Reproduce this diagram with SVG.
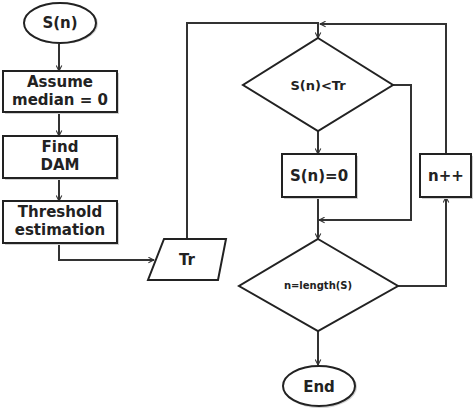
<svg xmlns="http://www.w3.org/2000/svg" width="474" height="409" viewBox="0 0 474 409">
<style>
.s{fill:#fff;stroke:#222;stroke-width:2}
.sh{fill:#d0d0d0;stroke:none}
.t{font-family:"DejaVu Sans",sans-serif;font-weight:bold;font-size:15px;fill:#222;text-anchor:middle}
.c{fill:none;stroke:#333;stroke-width:2}
</style>
<defs>
<marker id="a" viewBox="0 0 10 10" refX="9" refY="5" markerWidth="7" markerHeight="7" markerUnits="userSpaceOnUse" orient="auto">
<path d="M1,1 L9,5 L1,9" fill="none" stroke="#333" stroke-width="1.5"/>
</marker>
</defs>
<rect width="474" height="409" fill="#fff"/>
<g id="connectors">
<path class="c" d="M59,43 V71" marker-end="url(#a)"/>
<path class="c" d="M59,112 V136" marker-end="url(#a)"/>
<path class="c" d="M59,178 V201" marker-end="url(#a)"/>
<path class="c" d="M59,243 V260 H154" marker-end="url(#a)"/>
<path class="c" d="M187,239 V23 H318 V38" marker-end="url(#a)"/>
<path class="c" d="M318,131 V154" marker-end="url(#a)"/>
<path class="c" d="M393,85 H411 V220 H319" marker-end="url(#a)"/>
<path class="c" d="M318,197 V239" marker-end="url(#a)"/>
<path class="c" d="M318,331 V365" marker-end="url(#a)"/>
<path class="c" d="M398,286 H446 V197" marker-end="url(#a)"/>
<path class="c" d="M446,154 V24 H320" marker-end="url(#a)"/>
</g>
<g id="start">
<ellipse class="sh" cx="61" cy="24" rx="37" ry="20"/>
<ellipse class="s" cx="60" cy="23" rx="36" ry="20"/>
<text class="t" x="60" y="28">S(n)</text>
</g>
<g id="assume">
<rect class="sh" x="5" y="73" width="114" height="41"/>
<rect class="s" x="3" y="71" width="114" height="41"/>
<text class="t" x="60" y="87">Assume</text>
<text class="t" x="60" y="105">median = 0</text>
</g>
<g id="dam">
<rect class="sh" x="5" y="138" width="114" height="42"/>
<rect class="s" x="3" y="136" width="114" height="42"/>
<text class="t" x="60" y="152">Find</text>
<text class="t" x="60" y="170">DAM</text>
</g>
<g id="threshold">
<rect class="sh" x="5" y="203" width="114" height="42"/>
<rect class="s" x="3" y="201" width="114" height="42"/>
<text class="t" x="60" y="217">Threshold</text>
<text class="t" x="60" y="235">estimation</text>
</g>
<g id="tr">
<polygon class="s" points="164,239 226,239 218,280 148,280"/>
<text class="t" x="187" y="265">Tr</text>
</g>
<g id="cond1">
<polygon class="s" points="318,38 393,85 318,131 243,85"/>
<text class="t" x="318" y="90" style="font-size:13px">S(n)&lt;Tr</text>
</g>
<g id="zero">
<rect class="sh" x="284" y="156" width="74" height="43"/>
<rect class="s" x="282" y="154" width="74" height="43"/>
<text class="t" x="319" y="181">S(n)=0</text>
</g>
<g id="inc">
<rect class="sh" x="422" y="156" width="51" height="43"/>
<rect class="s" x="420" y="154" width="51" height="43"/>
<text class="t" x="446" y="181">n++</text>
</g>
<g id="cond2">
<polygon class="s" points="318,239 398,286 318,331 239,286"/>
<text class="t" x="318" y="289" style="font-size:10px">n=length(S)</text>
</g>
<g id="end">
<ellipse class="sh" cx="320" cy="387" rx="37" ry="21"/>
<ellipse class="s" cx="319" cy="386" rx="36" ry="20"/>
<text class="t" x="319" y="392">End</text>
</g>
</svg>
